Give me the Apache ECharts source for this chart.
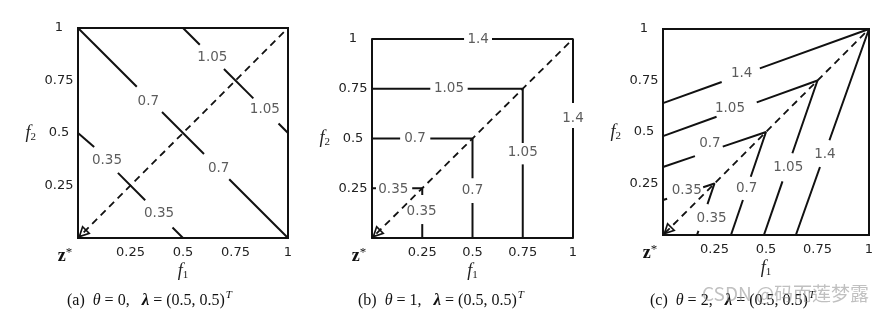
<!DOCTYPE html>
<html><head><meta charset="utf-8">
<script src="https://cdn.jsdelivr.net/npm/echarts@6/dist/echarts.min.js"></script>
<style>html,body{margin:0;padding:0;background:#fff}#c{width:888px;height:314px}</style>
</head><body><div id="c"></div><script>
// ---------- data ----------
const tickValues = [0, 0.25, 0.5, 0.75, 1];
const captionsTheta = ['0', '1', '2'];
const captionLetters = ['a', 'b', 'c'];

// Panel (a) theta = 0 : contour segments (gaps left for labels)
const segA_035 = [[[0, 0.5], [0.077, 0.433]], [[0.19, 0.31], [0.32, 0.18]], [[0.45, 0.05], [0.5, 0]]];
const segA_070 = [[[0, 1], [0.28, 0.72]], [[0.4, 0.6], [0.6, 0.4]], [[0.72, 0.28], [1, 0]]];
const segA_105 = [[[0.5, 1], [0.58, 0.92]], [[0.695, 0.805], [0.835, 0.665]], [[0.955, 0.545], [1, 0.5]]];
const labA = [[0.138, 0.371, '0.35'], [0.386, 0.119, '0.35'], [0.335, 0.648, '0.7'], [0.67, 0.33, '0.7'], [0.64, 0.86, '1.05'], [0.89, 0.61, '1.05']];

// Panel (b) theta = 1
const segB_035 = [[[0, 0.25], [0.02, 0.25]], [[0.2, 0.25], [0.25, 0.25], [0.25, 0.216]], [[0.25, 0.07], [0.25, 0]]];
const segB_070 = [[[0, 0.5], [0.14, 0.5]], [[0.29, 0.5], [0.5, 0.5], [0.5, 0.3]], [[0.5, 0.176], [0.5, 0]]];
const segB_105 = [[[0, 0.75], [0.29, 0.75]], [[0.476, 0.75], [0.75, 0.75], [0.75, 0.477]], [[0.75, 0.37], [0.75, 0]]];
const segB_140 = [[[0, 1], [0.458, 1]], [[0.597, 1], [1, 1], [1, 0.678]], [[1, 0.553], [1, 0]]];
const labB = [[0.106, 0.246, '0.35'], [0.247, 0.132, '0.35'], [0.214, 0.5, '0.7'], [0.5, 0.24, '0.7'], [0.383, 0.75, '1.05'], [0.75, 0.432, '1.05'], [0.528, 1, '1.4'], [1, 0.6, '1.4']];

// Panel (c) theta = 2
const segC_035 = [[[0, 0.17], [0.02, 0.176]], [[0.195, 0.232], [0.25, 0.25], [0.216, 0.15]], [[0.172, 0.02], [0.165, 0]]];
const segC_070 = [[[0, 0.33], [0.155, 0.383]], [[0.29, 0.429], [0.5, 0.5], [0.426, 0.283]], [[0.388, 0.17], [0.33, 0]]];
const segC_105 = [[[0, 0.48], [0.26, 0.574]], [[0.455, 0.644], [0.75, 0.75], [0.628, 0.397]], [[0.58, 0.26], [0.49, 0]]];
const segC_140 = [[[0, 0.64], [0.285, 0.743]], [[0.47, 0.809], [1, 1], [0.808, 0.46]], [[0.762, 0.33], [0.645, 0]]];
const labC = [[0.115, 0.218, '0.35'], [0.236, 0.08, '0.35'], [0.228, 0.445, '0.7'], [0.406, 0.227, '0.7'], [0.325, 0.615, '1.05'], [0.608, 0.33, '1.05'], [0.382, 0.785, '1.4'], [0.786, 0.39, '1.4']];

// reference direction (dashed arrow towards z*)
const arrowFrom = [0.98, 0.98];
const arrowTo = [0, 0];

// ---------- layout ----------
const grids = [
  { left: 78, top: 28, width: 210, height: 210 },
  { left: 372, top: 39, width: 201, height: 199 },
  { left: 663, top: 29, width: 206, height: 206 }
];
const panelSegs = [
  [segA_035, segA_070, segA_105],
  [segB_035, segB_070, segB_105],
  [segC_035, segC_070, segC_105, segC_140]
];
const panelBoxSegs = [[], [segB_140], []];
const panelLabels = [labA, labB, labC];
const captionLeft = [67, 358, 650];

const INK = '#111';
const serif = 'Liberation Serif';
// hollow arrow head; tip sits at the centre of the symbol box so it lands on z*
const hollowArrow = 'path://M0,-12 L0,-12 M24,-12 L24,-12 M12,0 L18,12 L6,12 Z M12,3.8 L8.6,10.4 L15.4,10.4 Z';

const series = [];
const xAxes = [], yAxes = [];
for (let i = 0; i < 3; i++) {
  xAxes.push({
    gridIndex: i, type: 'value', min: 0, max: 1, interval: 0.25,
    axisLine: { show: i === 1, lineStyle: { color: INK, width: 2 } },
    axisTick: { show: false }, splitLine: { show: false },
    axisLabel: {
      showMinLabel: true, showMaxLabel: true, margin: 8,
      fontFamily: 'DejaVu Sans', fontSize: 13, color: '#222',
      formatter: v => v === 0 ? '{z|z}{st|*}' : String(v),
      rich: {
        z: { fontFamily: serif, fontWeight: 'bold', fontSize: 18, color: '#111' },
        st: { fontFamily: serif, fontSize: 13, color: '#111', padding: [0, 26, 8, 0] }
      }
    },
    name: '{f|f}{s|1}', nameLocation: 'middle', nameGap: 24, nameMoveOverlap: false,
    nameTextStyle: {
      rich: {
        f: { fontFamily: serif, fontStyle: 'italic', fontSize: 18, color: '#222' },
        s: { fontFamily: serif, fontSize: 11, color: '#222', padding: [8, 0, 0, 0] }
      }
    }
  });
  yAxes.push({
    gridIndex: i, type: 'value', min: 0, max: 1, interval: 0.25,
    axisLine: { show: i === 1, lineStyle: { color: INK, width: 2 } },
    axisTick: { show: false }, splitLine: { show: false },
    axisLabel: {
      showMinLabel: true, showMaxLabel: true, margin: 19, align: 'center',
      fontFamily: 'DejaVu Sans', fontSize: 13, color: '#222',
      formatter: v => v === 0 ? '' : String(v)
    },
    name: '{f|f}{s|2}', nameLocation: 'middle', nameGap: 42, nameRotate: 0, nameMoveOverlap: false,
    nameTextStyle: {
      rich: {
        f: { fontFamily: serif, fontStyle: 'italic', fontSize: 18, color: '#222' },
        s: { fontFamily: serif, fontSize: 11, color: '#222', padding: [8, 0, 0, 0] }
      }
    }
  });

  const addSegs = (groups, width) => {
    groups.forEach(g => g.forEach(seg => {
      series.push({
        type: 'line', xAxisIndex: i, yAxisIndex: i, data: seg, showSymbol: false,
        silent: true, animation: false, z: 3,
        lineStyle: { color: INK, width: width }
      });
    }));
  };
  addSegs(panelSegs[i], 2);
  addSegs(panelBoxSegs[i], 2);

  series.push({
    type: 'scatter', xAxisIndex: i, yAxisIndex: i, data: panelLabels[i],
    symbolSize: 1, itemStyle: { color: 'rgba(0,0,0,0)' }, silent: true, animation: false, z: 5,
    label: {
      show: true, position: 'inside', formatter: p => p.value[2],
      fontFamily: 'DejaVu Sans', fontSize: 13.5, color: '#333'
    }
  });

  series.push({
    type: 'line', xAxisIndex: i, yAxisIndex: i, data: [], silent: true, animation: false,
    markLine: {
      silent: true, animation: false,
      symbol: ['none', hollowArrow], symbolSize: 24,
      label: { show: false },
      lineStyle: { color: INK, width: 1.8, type: [7, 5] },
      emphasis: { disabled: true },
      data: [[{ coord: arrowFrom }, { coord: arrowTo }]]
    }
  });
}

const titles = captionLetters.map((l, i) => ({
  left: captionLeft[i], top: 290, padding: 0,
  text: '(' + l + ')  {i|θ} = ' + captionsTheta[i] + ',   {b|λ} = (0.5, 0.5){t|T}',
  textStyle: {
    fontFamily: serif, fontSize: 16, fontWeight: 'normal', color: '#111',
    rich: {
      i: { fontFamily: serif, fontStyle: 'italic', fontSize: 16, color: '#111' },
      b: { fontFamily: serif, fontStyle: 'italic', fontWeight: 'bold', fontSize: 17, color: '#111' },
      t: { fontFamily: serif, fontStyle: 'italic', fontSize: 11, color: '#111', padding: [0, 0, 10, 1] }
    }
  }
}));
titles.push({
  left: 702, top: 284, padding: 0, text: 'CSDN @码而莲梦露', z: 10,
  textStyle: { fontFamily: 'Noto Sans CJK SC', fontSize: 19, fontWeight: 'normal', color: 'rgba(140,140,140,0.55)' }
});

const chart = echarts.init(document.getElementById('c'), null, { renderer: 'canvas' });
chart.setOption({
  animation: false,
  backgroundColor: '#fff',
  title: titles,
  grid: grids.map((g, i) => Object.assign({ show: i !== 1, borderColor: INK, borderWidth: 2, backgroundColor: 'transparent' }, g)),
  xAxis: xAxes,
  yAxis: yAxes,
  series: series
});
</script></body></html>
